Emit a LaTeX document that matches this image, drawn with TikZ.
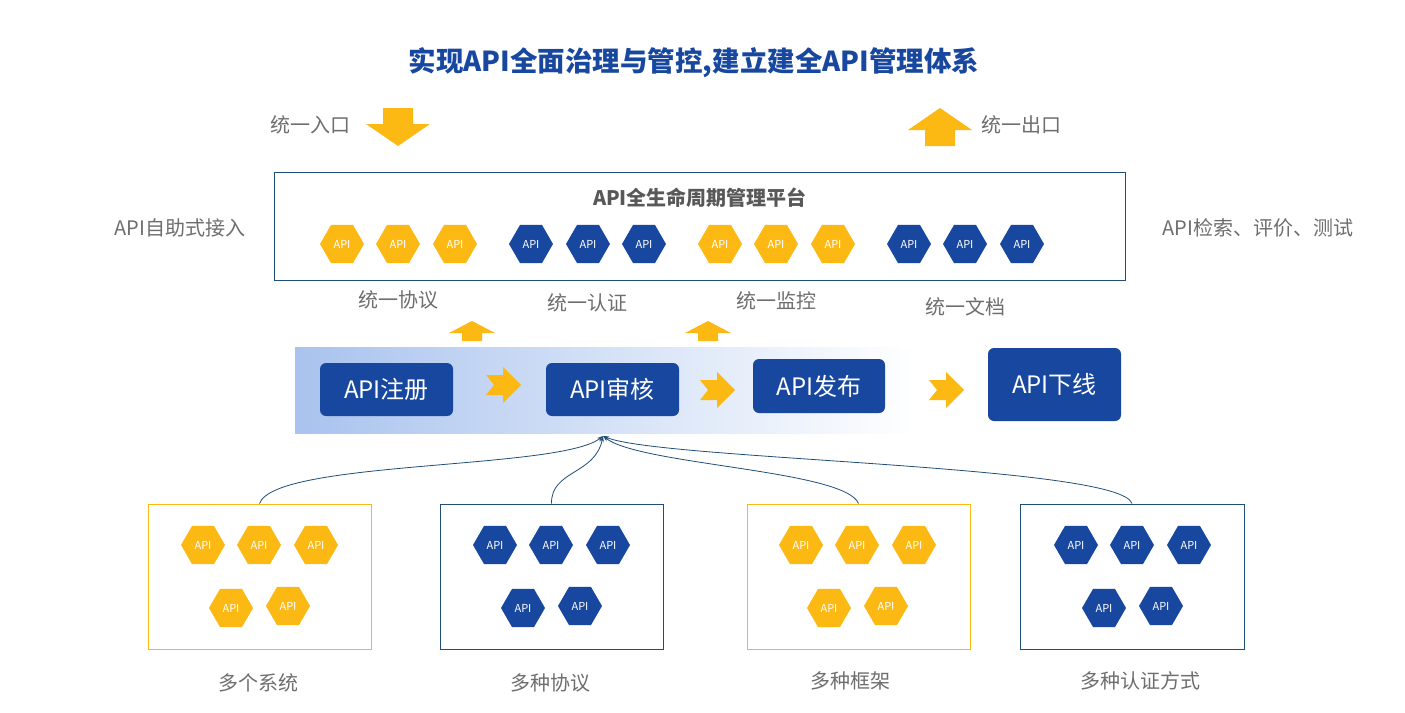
\documentclass[tikz,border=0pt]{standalone}
\usepackage{fontspec}
\setmainfont{Noto Sans CJK SC}
\usetikzlibrary{shapes.geometric,arrows.meta}
\definecolor{dblue}{HTML}{17479E}
\definecolor{ylw}{HTML}{FDB913}
\definecolor{gtxt}{HTML}{6E6E6E}
\definecolor{lineb}{HTML}{1F4E79}
\definecolor{bandb}{HTML}{A9C3EE}
\begin{document}
\begin{tikzpicture}[x=1pt,y=-1pt,
  hex/.style={regular polygon,regular polygon sides=6,minimum size=44pt,inner sep=0pt,text=white,font=\fontsize{11}{11}\selectfont},
  hy/.style={hex,fill=ylw},
  hb/.style={hex,fill=dblue},
  lab/.style={text=gtxt,font=\fontsize{20}{20}\selectfont},
  stepbox/.style={rounded corners=6pt,fill=dblue,text=white,font=\fontsize{24}{24}\selectfont},
  con/.style={lineb,line width=0.8pt}]
\useasboundingbox (0,0) rectangle (1405,712);
\fill[white] (0,0) rectangle (1405,712);
\node[text=dblue,font=\bfseries\fontsize{27.5}{27.5}\selectfont] (title) at (694,63) {实现API全面治理与管控,建立建全API管理体系};
\node[lab] (in) at (310,125) {统一入口};
\node[lab] (out) at (1021,125) {统一出口};
\fill[ylw] (383,108)--(413,108)--(413,124)--(430,124)--(398,146)--(366,124)--(383,124)--cycle;
\fill[ylw] (925,146)--(955,146)--(955,130)--(972,130)--(940,108)--(908,130)--(925,130)--cycle;
% platform
\node[draw=lineb,line width=1pt,minimum width=851pt,minimum height=108pt,inner sep=0pt] (plat) at (699.5,226) {};
\node[text=gtxt!80!black,font=\bfseries\fontsize{20}{20}\selectfont] (pt) at (700,198) {API全生命周期管理平台};
\foreach \x/\s [count=\i] in {342/hy,398/hy,455/hy,531/hb,588/hb,644/hb,720/hy,776/hy,833/hy,909/hb,965/hb,1022/hb}
  \node[\s] (t\i) at (\x,244) {API};
\node[lab] (l1) at (180,228) {API自助式接入};
\node[lab] (l2) at (1258,228) {API检索、评价、测试};
\node[lab] (u1) at (398,300) {统一协议};
\node[lab] (u2) at (587,303) {统一认证};
\node[lab] (u3) at (776,301) {统一监控};
\node[lab] (u4) at (965,307) {统一文档};
% small up arrows
\foreach \x in {472,708}
  \fill[ylw] (\x-10,341)--(\x+10,341)--(\x+10,333)--(\x+23,333)--(\x,321)--(\x-23,333)--(\x-10,333)--cycle;
% band
\shade[left color=bandb,right color=white] (295,347) rectangle (915,433);
\node[stepbox,minimum width=133pt,minimum height=53pt] (s1) at (386.5,389.5) {API注册};
\node[stepbox,minimum width=133pt,minimum height=53pt] (s2) at (612.5,389.5) {API审核};
\node[stepbox,minimum width=132pt,minimum height=54pt] (s3) at (819,386) {API发布};
\node[stepbox,minimum width=133pt,minimum height=73pt] (s4) at (1054.5,384.5) {API下线};
\foreach \x/\y in {503/385,717/390,946/390}
  \fill[ylw] (\x-17,\y-10)--(\x,\y-10)--(\x,\y-18)--(\x+18,\y)--(\x,\y+18)--(\x,\y+10)--(\x-17,\y+10)--(\x-9,\y)--cycle;
% bottom boxes
\node[draw=ylw,line width=1pt,minimum width=223pt,minimum height=145pt,inner sep=0pt] (b1) at (259.5,576.5) {};
\node[draw=lineb,line width=1pt,minimum width=223pt,minimum height=145pt,inner sep=0pt] (b2) at (551.5,576.5) {};
\node[draw=ylw,line width=1pt,minimum width=223pt,minimum height=145pt,inner sep=0pt] (b3) at (858.5,576.5) {};
\node[draw=lineb,line width=1pt,minimum width=224pt,minimum height=145pt,inner sep=0pt] (b4) at (1132,576.5) {};
\foreach \b/\o/\s in {1/0/hy,2/292/hb,3/598/hy,4/873/hb}{
  \node[\s] (h\b a) at (203+\o,545) {API};
  \node[\s] (h\b b) at (259+\o,545) {API};
  \node[\s] (h\b c) at (316+\o,545) {API};
  \node[\s] (h\b d) at (231+\o,608) {API};
  \node[\s] (h\b e) at (288+\o,606) {API};
}
\node[lab] (d1) at (258,683) {多个系统};
\node[lab] (d2) at (550,683) {多种协议};
\node[lab] (d3) at (850,681) {多种框架};
\node[lab] (d4) at (1140,681) {多种认证方式};
% connectors
\coordinate (hub) at (603,436);
\draw[con,-{Stealth[length=6pt,width=4pt]}] (b1.north) .. controls (275,460) and (560,470) .. (hub);
\draw[con,-{Stealth[length=6pt,width=4pt]}] (b2.north) .. controls (551,470) and (595,475) .. (hub);
\draw[con,-{Stealth[length=6pt,width=4pt]}] (b3.north) .. controls (845,470) and (640,465) .. (hub);
\draw[con,-{Stealth[length=6pt,width=4pt]}] (b4.north) .. controls (1120,465) and (660,460) .. (hub);
\end{tikzpicture}
\end{document}
